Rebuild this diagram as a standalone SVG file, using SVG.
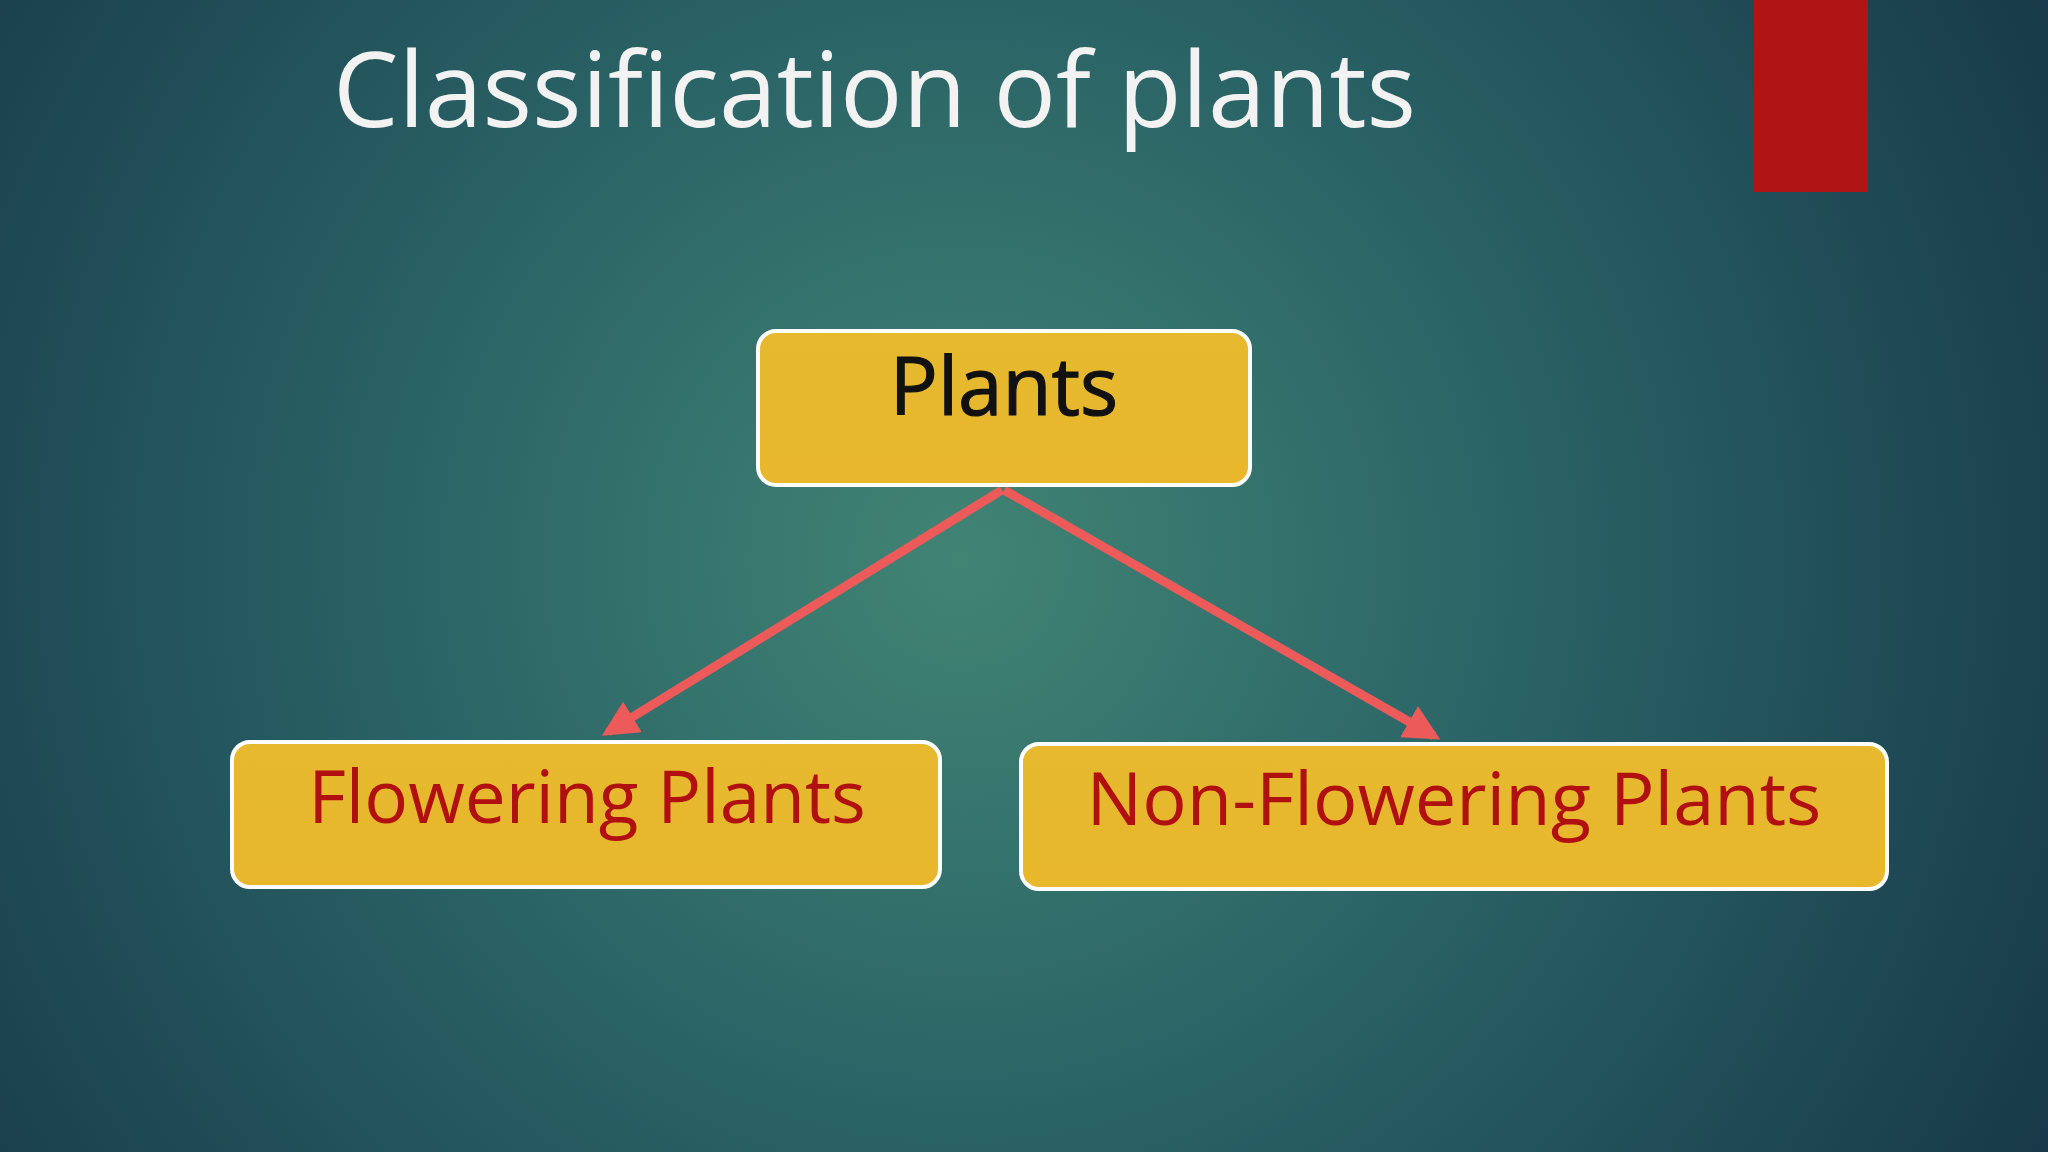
<svg xmlns="http://www.w3.org/2000/svg" width="2048" height="1152" viewBox="0 0 2048 1152">
<defs>
<radialGradient id="bg" cx="960" cy="560" r="1250" gradientUnits="userSpaceOnUse">
<stop offset="0" stop-color="#418474"/>
<stop offset="0.45" stop-color="#2a6366"/>
<stop offset="1" stop-color="#173848"/>
</radialGradient>
<linearGradient id="box" x1="0" y1="0" x2="0" y2="1">
<stop offset="0" stop-color="#e6b92e"/>
<stop offset="1" stop-color="#e8b72c"/>
</linearGradient>
<marker id="ah" viewBox="0 0 10 10" refX="8" refY="5" markerWidth="4" markerHeight="4" orient="auto" markerUnits="strokeWidth">
<path d="M0,0 L10,5 L0,10 Z" fill="#ec5a5a"/>
</marker>
<style>
.box{fill:url(#box);stroke:#ffffff;stroke-width:4}
.t{font-family:"Open Sans","Noto Sans","Liberation Sans",sans-serif;text-anchor:middle}
.conn{stroke:#ec5a5a;stroke-width:9;fill:none;marker-end:url(#ah)}
</style>
</defs>
<rect width="2048" height="1152" fill="url(#bg)"/>
<rect x="1754" y="0" width="114" height="192" fill="#b01515"/>
<text x="333" y="127" font-family="'Open Sans','Noto Sans','Liberation Sans',sans-serif" font-size="104" fill="#f2f2f2">Classification of plants</text>
<g id="connectors">
<line class="conn" x1="1002" y1="490" x2="608" y2="732"/>
<line class="conn" x1="1004" y1="490" x2="1434" y2="736"/>
</g>
<g id="plants">
<rect class="box" x="758" y="331" width="492" height="154" rx="18"/>
<text class="t" x="1004" y="415" font-size="80" fill="#111" stroke="#111" stroke-width="1.2">Plants</text>
</g>
<g id="flowering">
<rect class="box" x="232" y="742" width="708" height="145" rx="18"/>
<text class="t" x="587" y="823" font-size="73" fill="#b01010">Flowering Plants</text>
</g>
<g id="nonflowering">
<rect class="box" x="1021" y="744" width="866" height="145" rx="18"/>
<text class="t" x="1454" y="825" font-size="74" fill="#b01010">Non-Flowering Plants</text>
</g>
</svg>
